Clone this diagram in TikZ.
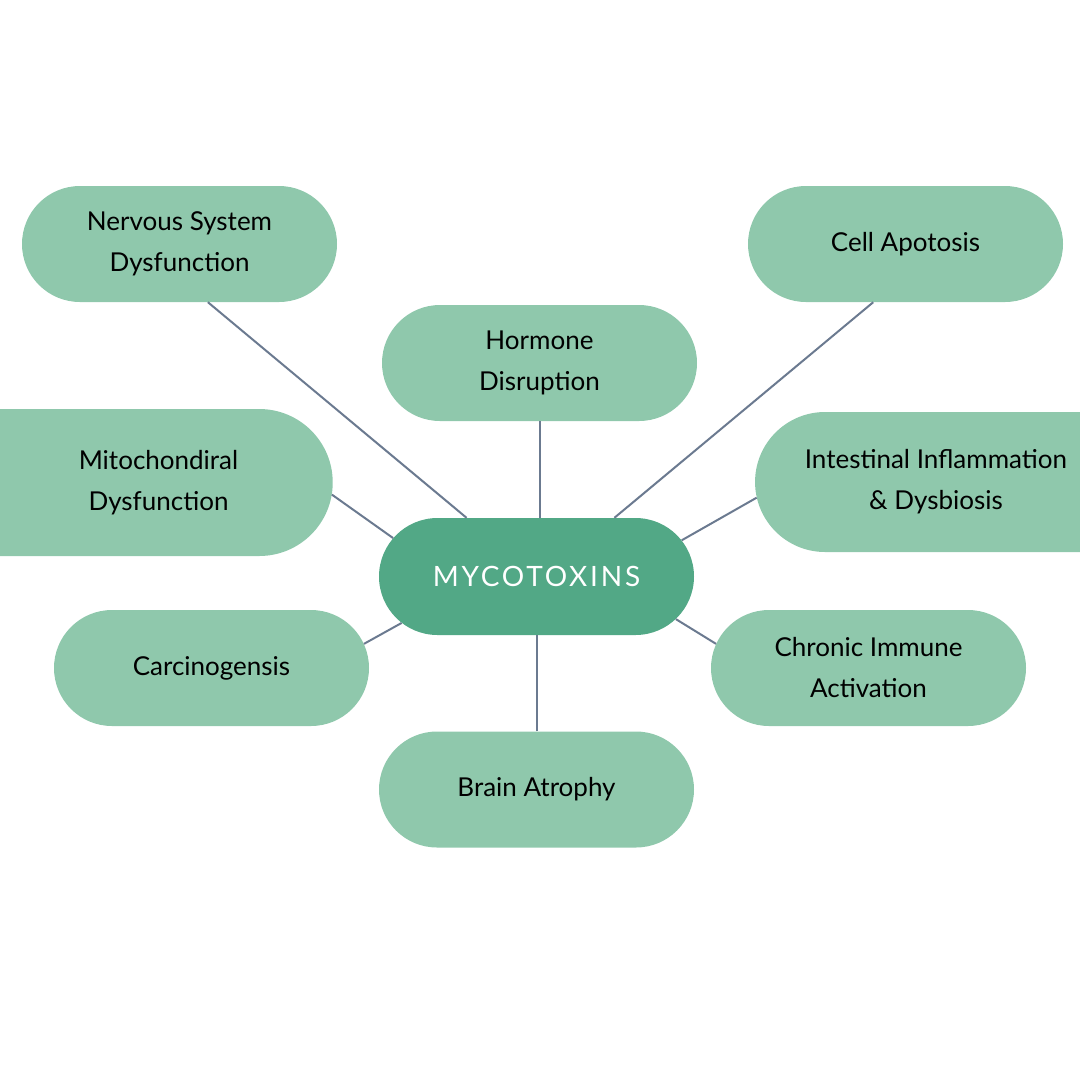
\documentclass[tikz,border=0pt]{standalone}
\usepackage{fontspec}
\setmainfont{Lato}
\newfontfamily\capsfont[LetterSpace=10]{Lato}
\usetikzlibrary{shapes.misc}
\definecolor{leafgreen}{HTML}{8FC8AC}
\definecolor{hubgreen}{HTML}{52A886}
\definecolor{linkgray}{HTML}{6B7A90}
\begin{document}
\begin{tikzpicture}[x=1pt, y=-1pt,
  every node/.style={font=\fontsize{26}{41}\selectfont},
  effect/.style={rounded rectangle, fill=leafgreen, minimum width=315pt, minimum height=116pt, inner sep=0pt, align=center},
  hub/.style={rounded rectangle, fill=hubgreen, text=white, minimum width=315pt, minimum height=117pt, inner sep=0pt},
  edge/.style={linkgray, line width=2pt}]
  \clip (0,0) rectangle (1080,1080);
  \node[effect] (nerv) at (179.5,244) {Nervous System\\Dysfunction};
  \node[effect] (cell) at (905.5,244) {Cell Apotosis};
  \node[effect] (horm) at (539.5,363) {Hormone\\Disruption};
  \node[effect, rounded rectangle left arc=none, minimum width=341pt, minimum height=147pt] (mito) at (158.5,482.5) {Mitochondiral\\Dysfunction};
  \node[effect, rounded rectangle right arc=none, minimum width=354pt, minimum height=140pt] (gut) at (936,482) {Intestinal Inflammation\\\& Dysbiosis};
  \node[hub] (myco) at (536.5,576.5) {\capsfont\fontsize{28}{34}\selectfont MYCOTOXINS};
  \node[effect] (carc) at (211.5,668) {Carcinogensis};
  \node[effect] (immu) at (868.5,668) {Chronic Immune\\Activation};
  \node[effect] (brain) at (536.5,789.5) {Brain Atrophy};
  \draw[edge] (nerv.-64.6) -- (myco.140.7);
  \draw[edge] (horm.south) -- (horm.south |- myco.north);
  \draw[edge] (cell.-119.3) -- (myco.37.4);
  \draw[edge] (mito.-4.4) -- (myco.165);
  \draw[edge] (gut.-175.9) -- (myco.14.6);
  \draw[edge] (carc.9.7) -- (myco.-161.8);
  \draw[edge] (immu.171.1) -- (myco.-17.4);
  \draw[edge] (brain.north) -- (myco.south);
\end{tikzpicture}
\end{document}
